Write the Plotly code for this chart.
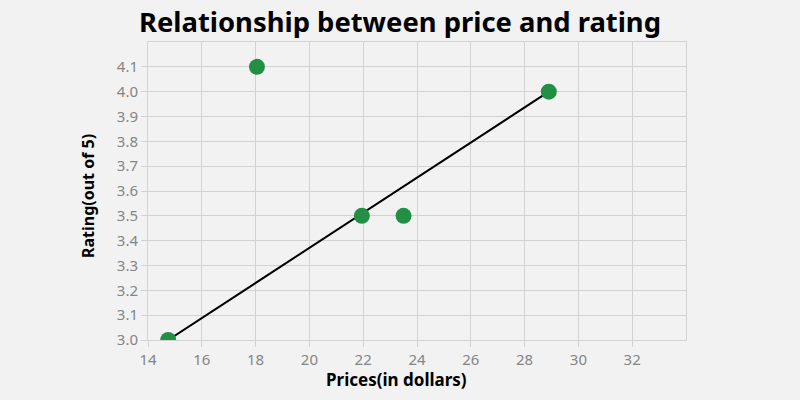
import plotly.graph_objects as go

# data
prices = [14.75, 18.05, 21.95, 23.5, 28.9]
ratings = [3.0, 4.1, 3.5, 3.5, 4.0]

# trend line endpoints (first and last point)
line_x = [prices[0], prices[-1]]
line_y = [ratings[0], ratings[-1]]

x_ticks = [14, 16, 18, 20, 22, 24, 26, 28, 30, 32]
y_ticks = [3.0, 3.1, 3.2, 3.3, 3.4, 3.5, 3.6, 3.7, 3.8, 3.9, 4.0, 4.1]

grid = "#d2d2d2"
font = "Noto Sans"

fig = go.Figure()
fig.add_trace(go.Scatter(x=line_x, y=line_y, mode="lines",
                         line=dict(color="black", width=2), showlegend=False))
fig.add_trace(go.Scatter(x=prices, y=ratings, mode="markers",
                         marker=dict(color="#238f45", size=16), showlegend=False))

fig.update_layout(
    width=800, height=400,
    margin=dict(l=148, r=114, t=42, b=60),
    paper_bgcolor="#f2f2f2",
    plot_bgcolor="#f2f2f2",
    font=dict(family=font),
    title=dict(text="<b>Relationship between price and rating</b>",
               x=0.5, xanchor="center", y=0.945, yanchor="middle",
               font=dict(size=27.4, color="black", family=font)),
)
fig.update_xaxes(
    range=[14, 34], tickvals=x_ticks, ticktext=[str(v) for v in x_ticks],
    showgrid=True, gridcolor=grid, gridwidth=1,
    showline=True, linecolor=grid, mirror=True, zeroline=False,
    ticks="outside", ticklen=6, tickcolor=grid,
    tickfont=dict(size=15, color="#858585"),
)
fig.update_yaxes(
    range=[3.0, 4.2], tickvals=y_ticks, ticktext=["%.1f" % v for v in y_ticks],
    showgrid=True, gridcolor=grid, gridwidth=1,
    showline=True, linecolor=grid, mirror=True, zeroline=False,
    ticks="outside", ticklen=6, tickcolor=grid,
    tickfont=dict(size=15, color="#858585"),
)

# axis titles as annotations (they sit a little off the plot centre)
fig.add_annotation(text="<b>Prices(in dollars)</b>", xref="paper", yref="paper",
                   x=0.461, y=-0.134, xanchor="center", yanchor="middle",
                   showarrow=False, borderpad=0, font=dict(size=17, color="black"))
fig.add_annotation(text="<b>Rating(out of 5)</b>", xref="paper", yref="paper",
                   x=-0.1115, y=0.483, xanchor="center", yanchor="middle",
                   textangle=-90, showarrow=False, borderpad=0,
                   font=dict(size=16, color="black"))

# drop the default page margin so the figure fills the window
fig.write_html("out.html", config={"displayModeBar": False},
               post_script="document.body.style.margin='0';")
